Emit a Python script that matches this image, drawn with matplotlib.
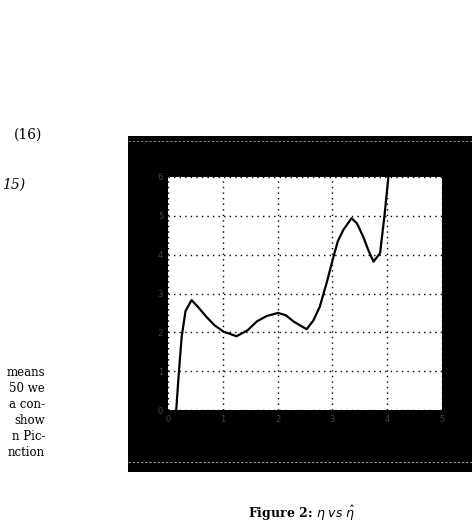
import matplotlib
matplotlib.use("Agg")
import matplotlib.pyplot as plt

eta_hat = [0.15, 0.20, 0.25, 0.32, 0.43, 0.55, 0.70, 0.85, 1.01, 1.25, 1.45, 1.62, 1.80, 2.01, 2.15, 2.29, 2.53, 2.65, 2.77, 2.90, 3.02, 3.10, 3.20, 3.35, 3.45, 3.56, 3.66, 3.75, 3.87, 3.95, 4.02]
eta = [0.0, 1.0, 1.89, 2.55, 2.83, 2.65, 2.40, 2.18, 2.02, 1.90, 2.05, 2.28, 2.42, 2.50, 2.44, 2.28, 2.08, 2.30, 2.66, 3.30, 3.95, 4.35, 4.64, 4.94, 4.80, 4.47, 4.10, 3.82, 4.04, 5.0, 5.97]
xticks = [0, 1, 2, 3, 4, 5]
yticks = [0, 1, 2, 3, 4, 5, 6]

W, H = 474, 528
fig = plt.figure(figsize=(4.74, 5.28), dpi=100)
fig.patch.set_facecolor("white")

bg = fig.add_axes([128/W, 1-472/H, 344/W, (472-136)/H])
bg.set_facecolor("black")
bg.set_xticks([]); bg.set_yticks([])
for s in bg.spines.values():
    s.set_visible(False)
bg.axhline(0.03, color="#bbbbbb", lw=0.6, ls=(0, (3, 2)))
bg.axhline(0.985, color="#999999", lw=0.6, ls=(0, (3, 2)))

ax = fig.add_axes([168/W, 1-410/H, 274/W, 233/H])
ax.set_facecolor("white")
ax.plot(eta_hat, eta, color="black", lw=1.6)
ax.set_xlim(0, 5)
ax.set_ylim(0, 6)
ax.set_xticks(xticks)
ax.set_yticks(yticks)
ax.set_xticklabels([str(t) for t in xticks], color="#444444", fontsize=6)
ax.set_yticklabels([str(t) for t in yticks], color="#444444", fontsize=6)
ax.tick_params(length=0)
ax.grid(True, color="black", linestyle=(0, (1, 3)), lw=1)
for s in ax.spines.values():
    s.set_visible(False)

fig.text(42/W, 1-135/H, "(16)", fontsize=10, family="DejaVu Serif", ha="right", va="center")
fig.text(2/W, 1-185/H, "15)", fontsize=10, family="DejaVu Serif", style="italic", ha="left", va="center")
for i, t in enumerate(["means", "50 we", "a con-", "show", "n Pic-", "nction"]):
    fig.text(45/W, 1-(373+i*16)/H, t, fontsize=8.5, family="DejaVu Serif", ha="right", va="center")
fig.text(302/W, 1-513/H, r"Figure 2: $\eta\ vs\ \hat{\eta}$", fontsize=9, family="DejaVu Serif",
         weight="bold", ha="center", va="center")

fig.savefig("out.png", dpi=100, facecolor="white")
